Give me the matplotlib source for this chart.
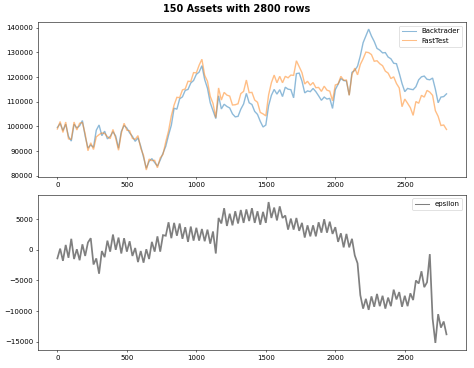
import numpy as np
from matplotlib import pyplot as plt

# values in thousands, one sample every 20 rows
backtrader_k = [
    99.6, 101.2, 98.4, 100.9, 96.0, 94.1, 100.9, 99.4, 100.3, 102.4,
    96.1, 91.3, 92.5, 91.6, 98.5, 100.6, 96.3, 98.1, 95.0, 96.0,
    97.9, 96.1, 91.2, 98.0, 100.4, 99.4, 97.4, 96.0, 94.0, 95.4,
    92.0, 87.6, 83.1, 85.9, 87.0, 85.4, 84.0, 86.4, 89.2, 92.0,
    96.5, 100.5, 107.4, 107.0, 111.2, 112.0, 114.6, 115.0, 117.6, 118.6,
    121.1, 122.0, 124.6, 119.0, 115.5, 109.6, 106.4, 103.2, 112.4, 107.1,
    109.0, 108.1, 107.5, 105.1, 103.9, 104.1, 107.0, 109.1, 113.4, 109.6,
    108.9, 106.1, 104.9, 102.1, 99.8, 100.6, 108.4, 112.6, 115.0, 113.1,
    114.9, 112.1, 115.9, 115.1, 114.9, 111.6, 121.4, 121.6, 118.4, 113.6,
    114.4, 114.1, 115.4, 114.1, 112.4, 110.6, 111.9, 111.1, 111.4, 107.3,
    114.9, 117.1, 119.4, 118.6, 118.4, 112.7, 121.9, 122.7, 124.4, 128.6,
    133.9, 136.6, 139.4, 136.6, 134.4, 131.6, 130.9, 129.8, 129.9, 128.1,
    127.4, 125.6, 125.4, 121.6, 117.4, 114.1, 115.4, 115.1, 114.9, 116.1,
    118.9, 120.1, 120.4, 119.1, 118.9, 119.6, 115.1, 109.6, 111.9, 112.1,
    113.2,
]

fasttest_k = [
    99.0, 102.0, 97.6, 101.8, 95.0, 94.8, 101.8, 98.6, 101.3, 101.6,
    97.0, 90.2, 93.4, 90.7, 95.8, 96.7, 97.4, 97.2, 95.9, 95.1,
    98.8, 95.2, 90.4, 97.2, 101.3, 98.5, 98.3, 95.2, 94.8, 96.3,
    91.2, 88.3, 82.4, 86.8, 86.2, 86.3, 83.3, 87.3, 88.7, 93.8,
    98.2, 104.3, 108.7, 111.8, 111.7, 114.8, 115.2, 118.3, 118.2, 121.8,
    121.7, 124.8, 127.2, 120.7, 118.3, 112.2, 109.3, 103.6, 115.6, 110.7,
    113.8, 112.7, 112.3, 108.7, 108.8, 109.2, 113.3, 114.2, 118.8, 113.7,
    113.8, 110.7, 109.8, 105.7, 105.1, 104.3, 112.8, 117.7, 120.8, 117.7,
    120.3, 117.7, 120.3, 119.7, 120.8, 120.7, 126.6, 124.2, 121.8, 117.2,
    118.3, 116.7, 117.8, 115.7, 115.8, 114.2, 116.3, 114.7, 114.3, 110.4,
    116.8, 117.2, 120.3, 118.7, 118.8, 112.6, 121.0, 123.6, 120.9, 125.1,
    127.4, 130.1, 129.9, 129.1, 126.4, 126.6, 125.4, 124.6, 122.4, 121.6,
    119.4, 120.1, 117.4, 115.6, 108.0, 111.1, 109.4, 107.6, 104.5, 110.1,
    109.4, 112.6, 111.9, 114.6, 113.9, 112.6, 106.4, 104.1, 100.4, 100.6,
    98.8,
]

epsilon_k = [
    -1.4, 0.2, -1.8, 0.8, -1.3, 1.8, -1.5, 0.1, -1.7, 0.9,
    -1.0, 1.2, 1.9, -2.4, -1.4, -3.9, -0.2, -1.2, 1.5, -0.3,
    2.5, 0.0, 2.0, -0.6, 1.9, -0.3, 1.4, -1.0, 0.3, -2.0,
    -0.2, -2.1, 0.1, -1.5, 1.3, -0.3, 2.2, -0.3, 2.4, 2.3,
    4.5, 1.9, 4.4, 2.3, 4.3, 1.8, 3.7, 1.3, 3.8, 1.5,
    3.6, 1.5, 3.4, 1.4, 3.3, 1.0, 3.0, -0.6, 5.2, 4.3,
    6.8, 3.9, 5.9, 4.0, 6.3, 4.3, 6.5, 4.4, 6.6, 4.7,
    6.8, 4.4, 6.3, 4.1, 6.2, 4.4, 7.8, 5.2, 6.9, 4.8,
    7.1, 5.2, 5.6, 3.3, 5.1, 3.3, 5.2, 3.1, 4.4, 2.0,
    4.0, 2.2, 4.0, 2.2, 4.5, 2.8, 5.0, 2.8, 4.6, 2.6,
    3.7, 1.3, 2.7, 0.4, 2.6, 0.4, 1.8, -0.9, -2.2, -7.4,
    -9.6, -8.0, -9.8, -7.6, -9.3, -7.2, -9.2, -7.5, -9.6, -7.8,
    -9.2, -6.5, -8.1, -6.9, -9.3, -7.5, -9.2, -7.1, -8.2, -5.0,
    -5.5, -3.5, -6.1, -5.3, -0.7, -11.2, -15.2, -10.5, -12.7, -11.7,
    -13.8,
]

n_rows = 2800
backtrader = np.array(backtrader_k) * 1000
fasttest = np.array(fasttest_k) * 1000
epsilon = np.array(epsilon_k) * 1000
rows = np.linspace(0, n_rows - 1, len(backtrader))

fig, (ax1, ax2) = plt.subplots(2, 1, figsize=(9.48, 7.36), dpi=50)
fig.subplots_adjust(left=0.080, right=0.983, top=0.940, bottom=0.049, hspace=0.116)

fig.suptitle("150 Assets with 2800 rows", fontsize=14, fontweight="bold", y=0.99)

# a bit heavier than default so the sampled series reads like the noisy band
ax1.plot(rows, backtrader, color="C0", alpha=0.5, linewidth=2.0,
         solid_joinstyle="miter", label="Backtrader")
ax1.plot(rows, fasttest, color="C1", alpha=0.5, linewidth=2.0,
         solid_joinstyle="miter", label="FastTest")
leg1 = ax1.legend(loc="upper right")

ax2.plot(rows, epsilon, color="k", alpha=0.5, linewidth=2.5,
         solid_joinstyle="miter", label="epsilon")
leg2 = ax2.legend(loc="upper right")

for leg in (leg1, leg2):
    for line in leg.get_lines():
        line.set_linewidth(1.5)

fig.savefig("out.png", dpi=50)
